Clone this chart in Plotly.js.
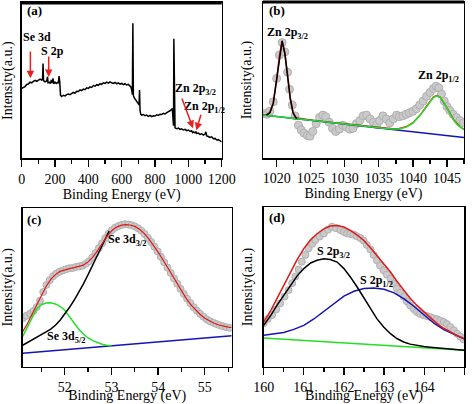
<!DOCTYPE html>
<html>
<head>
<meta charset="utf-8">
<script src="https://cdn.plot.ly/plotly-3.0.1.min.js"></script>
<style>
  html, body { margin: 0; padding: 0; background: #fff; }
  #chart { width: 474px; height: 404px; }
</style>
</head>
<body>
<div id="chart"></div>
<script>
// (a) survey spectrum
const surveyE = [0,10,20,30,40,50,60,70,80,90,100,110,120,125,128,131,140,150,155,158,165,172,178,182,188,192,200,208,215,220,224,228,233,240,250,260,270,280,290,300,310,320,330,340,350,360,370,380,390,400,410,420,430,440,450,460,470,480,490,500,510,520,530,540,550,560,570,580,590,600,610,620,630,640,648,655,660,664,667,670,675,680,685,690,695,700,704,707,710,714,720,730,740,750,760,770,780,790,800,810,820,830,840,850,860,870,880,890,898,904,908,911,913,916,920,930,940,950,960,970,980,990,1000,1010,1020,1025,1030,1040,1045,1050,1060,1070,1080,1090,1100,1105,1110,1120,1130,1140,1150,1160,1170,1180,1190,1200];
const surveyI = [45,45.6,46.2,47.5,47.8,49,48.6,49.5,50.2,49.6,50.6,51,50.4,50.8,61,50,49.2,49.8,52.5,48.6,49,48.2,50.5,48.4,51.5,48,49,48.2,48.8,48.6,53,49.5,40.5,39.8,40.6,40.2,41,41.4,41,42,42.4,42,43.2,43,44,43.6,44.6,44.2,45.4,45,46,45.6,46.8,46.4,47.4,47,48,47.6,48.6,48.2,49,48.4,49.2,48.6,48.2,48.8,48,48.6,47.8,48.2,47.4,48,47.2,47.6,46.8,46,44,41,87,40.5,39,38,37.2,36.4,35.8,35,34.4,44,31,28.5,27.8,28.2,27.4,27.8,27,27.6,26.8,27.4,27.2,28,27.6,28.4,28.2,29,28.6,29.6,30,30.6,31.5,32,25,21,77,21,19.6,19,19.4,18.6,19,18.2,18.6,17.8,18.2,17.4,17.6,16.6,17,16.4,17.2,16,16.2,15.4,15.8,15,15.6,17,14.4,14,13.4,13.8,12.6,12.8,11.8,12,11,10.6];

// (b) Zn 2p
const znE = [1018.2,1018.6,1019.0,1019.5,1020.0,1020.4,1020.8,1021.2,1021.6,1021.9,1022.3,1022.7,1023.2,1023.6,1024.0,1024.5,1024.9,1025.3,1025.8,1026.3,1026.8,1027.2,1027.7,1028.2,1028.7,1029.2,1029.7,1030.2,1030.7,1031.2,1031.7,1032.2,1032.7,1033.2,1033.7,1034.2,1034.7,1035.1,1035.6,1036.1,1036.6,1037.1,1037.6,1038.0,1038.5,1039.0,1039.5,1040.0,1040.5,1041.0,1041.5,1042.0,1042.5,1043.0,1043.4,1043.8,1044.2,1044.6,1045.0,1045.4,1045.9,1046.4,1046.9,1047.4];
const znI = [28.5,28,30,36,51,66,74,68,55,44,34,27,21,18,16,14.5,14,17,22,26,27.5,26.5,23,19,17,18.5,21,20,18.5,19,22,24,27,27.5,25,23,21.5,24,27,25,22.5,25,27.5,26.5,27,28,29,30,31.5,34,36.5,39.5,42,44.5,46,45,41,36.5,33,30.5,28,26,24,22.5];
const znBgE = [1018, 1047.5];
const znBgI = [27.6, 13.2];
const zn32E = [1018.5,1019.0,1019.5,1020.0,1020.4,1020.8,1021.2,1021.6,1022.0,1022.4,1022.8,1023.0];
const zn32I = [27.4,29,35,50,65,75,67,53,38,29,25.8,25.4];
const zn12E = [1018,1020,1022,1024,1026,1028,1030,1032,1034,1036,1037,1038,1039,1040,1041,1042,1042.5,1043,1043.5,1044,1044.5,1045,1045.5,1046,1046.5,1047,1047.5];
const zn12I = [27.6,26.6,25.6,24.7,23.7,22.8,21.8,20.8,19.8,18.9,18.6,18.6,19.8,22.4,27.0,33.0,36.0,38.8,39.8,38.8,36.0,32.0,27.8,24.2,21.4,19.5,18.2];
const znFitE = [1018,1018.5,1019.0,1019.5,1020.0,1020.4,1020.8,1021.2,1021.6,1022.0,1022.4,1022.8,1023.0,1026,1030,1034,1037,1038,1039,1040,1041,1042,1043,1043.5,1044,1045,1046,1047,1047.5];
const znFitI = [27.6,27.6,29.2,35.2,50.3,65.3,75.3,67.4,53.4,38.5,29.5,26.2,25.6,23.8,21.9,19.9,18.8,18.9,20.0,22.6,27.2,33.2,39.0,40.0,39.0,32.2,24.4,19.7,18.4];

// (c) Se 3d
const seE = [51.11,51.18,51.26,51.33,51.40,51.47,51.54,51.61,51.68,51.75,51.82,51.89,51.96,52.03,52.10,52.17,52.24,52.31,52.38,52.45,52.52,52.59,52.66,52.73,52.80,52.87,52.94,53.01,53.08,53.15,53.22,53.29,53.36,53.43,53.50,53.57,53.64,53.71,53.78,53.85,53.92,53.99,54.06,54.13,54.20,54.27,54.34,54.41,54.48,54.55,54.62,54.69,54.76,54.83,54.90,54.97,55.04,55.11,55.18,55.25,55.32,55.39,55.46,55.53];
const seI = [30.6,32.0,33.4,35.0,37.5,41.5,47.0,51.5,54.5,57.0,58.6,59.8,60.6,61.4,62.0,62.2,62.8,63.2,63.6,64.8,66.4,68.8,71.6,74.6,77.8,81.0,83.8,86.0,87.6,88.6,89.4,89.8,89.6,89.2,88.4,87.2,85.6,83.6,81.2,78.6,75.6,72.6,69.2,65.8,62.4,59.0,55.6,52.2,49.0,45.8,42.8,40.0,37.4,35.2,33.2,31.4,29.8,28.6,27.6,26.8,26.0,25.4,24.8,24.4];
const seFitE = [51.1,51.2,51.3,51.4,51.5,51.6,51.7,51.8,51.9,52.0,52.1,52.2,52.3,52.4,52.5,52.6,52.7,52.8,52.9,53.0,53.1,53.2,53.3,53.4,53.5,53.6,53.7,53.8,53.9,54.0,54.1,54.2,54.3,54.4,54.5,54.6,54.7,54.8,54.9,55.0,55.1,55.2,55.3,55.4,55.5,55.575];
const seFitI = [22.0,27.0,33.0,39.0,45.0,50.5,55.0,58.0,60.0,61.0,61.8,62.4,63.0,64.0,66.0,69.0,73.0,77.5,82.0,85.5,87.8,89.0,89.5,89.3,88.4,86.6,84.0,80.5,76.5,72.2,67.5,62.5,57.2,52.2,47.4,43.0,39.0,35.6,32.8,30.5,28.7,27.3,26.2,25.4,24.9,24.6];
const se32E = [51.1,51.2,51.3,51.4,51.5,51.6,51.7,51.8,51.9,52.0,52.1,52.2,52.3,52.4,52.5,52.6,52.7,52.8,52.9,52.95];
const se32I = [13.4,15.0,16.6,18.3,20.0,21.8,23.6,26.0,29.2,33.0,37.2,41.8,46.8,52.2,58.0,64.0,70.5,77.0,83.0,85.5];
const se52E = [51.1,51.2,51.3,51.4,51.5,51.6,51.7,51.8,51.9,52.0,52.1,52.2,52.3,52.4,52.5,52.6,52.7,52.8,52.9,53.0];
const se52I = [19.0,25.0,31.5,36.5,39.0,40.0,40.2,39.5,38.0,35.5,31.5,27.5,23.5,20.5,18.0,16.3,15.0,14.0,13.4,13.2];
const seBgE = [51.1, 55.575];
const seBgI = [8.4, 19.4];

// (d) S 2p
const sE = [160.00,160.10,160.21,160.31,160.41,160.52,160.62,160.71,160.79,160.87,160.95,161.04,161.12,161.21,161.29,161.40,161.50,161.60,161.70,161.80,161.91,162.00,162.08,162.16,162.24,162.32,162.41,162.49,162.57,162.66,162.74,162.82,162.90,162.99,163.07,163.16,163.24,163.32,163.40,163.49,163.57,163.65,163.74,163.82,163.90,163.99,164.07,164.15,164.24,164.32,164.40,164.49,164.57,164.65,164.74,164.82,164.90,164.98];
const sI = [27.3,30.0,32.5,36.0,39.8,44.0,48.1,52.4,56.5,61.0,65.8,70.0,74.2,77.0,79.4,81.6,83.5,85.8,87.7,86.8,85.6,84.4,83.5,83.2,82.8,81.8,80.6,79.0,76.3,73.5,70.0,66.7,63.4,60.4,57.8,55.2,52.0,49.0,46.4,43.8,41.0,38.5,36.2,34.4,33.2,32.3,31.8,31.2,30.4,29.8,29.0,28.1,26.8,25.0,23.0,20.8,19.0,17.3];
const sFitE = [160.00,160.17,160.33,160.50,160.66,160.83,161.00,161.17,161.33,161.50,161.66,161.83,162.00,162.16,162.33,162.49,162.66,162.82,162.99,163.16,163.32,163.49,163.65,163.82,163.99,164.15,164.32,164.49,164.65,164.82,165.00];
const sFitI = [28.0,35.0,42.7,51.0,59.4,67.0,74.0,79.5,83.3,86.3,88.1,88.5,87.5,85.4,82.5,79.2,74.6,69.8,64.6,59.4,53.6,47.9,43.0,38.5,34.5,30.6,27.1,24.2,21.8,19.6,17.6];
const s32I = [26.0,32.0,38.5,45.0,51.0,56.8,61.5,65.0,66.7,67.6,67.2,65.6,61.5,56.3,50.0,43.8,36.8,30.2,25.0,20.8,17.8,15.6,14.3,13.4,12.8,12.4,12.0,11.6,11.2,10.8,10.4];
const s12E = [160.00,160.25,160.50,160.75,161.00,161.25,161.50,161.75,162.00,162.25,162.50,162.75,163.00,163.25,163.50,163.75,164.00,164.25,164.50,164.75,165.00];
const s12I = [19.8,20.6,21.6,23.5,26.0,30.0,34.8,40.0,44.3,47.3,49.0,49.4,48.6,46.3,42.6,37.8,32.4,27.2,23.2,20.5,17.6];
const sBgE = [160, 165];
const sBgI = [18.1, 10.4];

const RED = '#e01818', BLACK = '#000000', GREEN = '#22e022', BLUE = '#1414b4';
const FONT = 'Liberation Serif';

function line(x, y, color, ax, width) {
  return { x: x, y: y, type: 'scatter', mode: 'lines', xaxis: 'x' + ax, yaxis: 'y' + ax,
           line: { color: color, width: width || 1.5 }, hoverinfo: 'skip' };
}
function dots(x, y, ax, size) {
  return { x: x, y: y, type: 'scatter', mode: 'markers', xaxis: 'x' + ax, yaxis: 'y' + ax,
           marker: { size: size || 7, color: '#cacaca', line: { color: '#b0b0b0', width: 1 } },
           hoverinfo: 'skip' };
}

var data = [
  line(surveyE, surveyI, BLACK, '', 1.5),

  dots(znE, znI, '2', 8),
  line(znFitE, znFitI, RED, '2'),
  line(znBgE, znBgI, BLUE, '2'),
  line(zn12E, zn12I, GREEN, '2'),
  line(zn32E, zn32I, BLACK, '2'),

  dots(seE, seI, '3'),
  line(seBgE, seBgI, BLUE, '3'),
  line(se52E, se52I, GREEN, '3'),
  line(se32E, se32I, BLACK, '3'),
  line(seFitE, seFitI, RED, '3', 1.2),

  dots(sE, sI, '4'),
  line(sBgE, sBgI, GREEN, '4'),
  line(s12E, s12I, BLUE, '4'),
  line(sFitE, s32I, BLACK, '4'),
  line(sFitE, sFitI, RED, '4'),
];

function xax(domain, range, dtick, minorDtick, anchor, standoff) {
  return {
    domain: domain, range: range, anchor: anchor, dtick: dtick, tick0: 0,
    showline: true, mirror: true, linecolor: 'black', linewidth: 1.5,
    ticks: 'outside', ticklen: 7, tickwidth: 1.3, tickcolor: 'black',
    minor: { dtick: minorDtick, ticks: 'outside', ticklen: 4, tickwidth: 1.3, tickcolor: 'black' },
    showgrid: false, zeroline: false,
    tickfont: { family: FONT, size: 14, color: 'black' },
    title: { text: 'Binding Energy (eV)', standoff: standoff, font: { family: FONT, size: 14, color: 'black' } }
  };
}
function yax(domain, anchor) {
  return {
    domain: domain, range: [0, 100], anchor: anchor,
    showline: true, mirror: true, linecolor: 'black', linewidth: 1.5,
    ticks: '', showticklabels: false, showgrid: false, zeroline: false,
    title: { text: 'Intensity(a.u.)', standoff: 6, font: { family: FONT, size: 14, color: 'black' } }
  };
}

function label(text, px, py, size) {
  return { text: text, xref: 'paper', yref: 'paper', x: px / 474, y: 1 - py / 404,
           xanchor: 'center', yanchor: 'middle', showarrow: false,
           font: { family: FONT, size: size || 12, color: 'black' } };
}
function arrow(ax, ay, x, y) {
  return { text: '', xref: 'x', yref: 'y', axref: 'x', ayref: 'y', x: x, y: y, ax: ax, ay: ay,
           showarrow: true, arrowhead: 2, arrowsize: 1, arrowwidth: 1.5, arrowcolor: '#e82020' };
}
// heavier top edge seen on the upper two frames
function topEdge(ax) {
  return { type: 'line', xref: 'x' + ax + ' domain', yref: 'y' + ax + ' domain',
           x0: 0, x1: 1, y0: 1, y1: 1, line: { color: 'black', width: 3 } };
}

var layout = {
  width: 474, height: 404,
  margin: { l: 0, r: 0, t: 0, b: 0 },
  paper_bgcolor: 'white', plot_bgcolor: 'white',
  showlegend: false,
  font: { family: FONT },
  xaxis:  xax([0.0458, 0.4677], [0, 1200], 200, 100, 'y', 1),
  yaxis:  yax([0.6082, 0.9926], 'x'),
  xaxis2: xax([0.5549, 0.9789], [1018, 1047.5], 5, 2.5, 'y2', 1),
  yaxis2: yax([0.6089, 0.9950], 'x2'),
  xaxis3: xax([0.0479, 0.4888], [51.1, 55.575], 1, 0.5, 'y3', 5),
  yaxis3: yax([0.0928, 0.4851], 'x3'),
  xaxis4: xax([0.5563, 0.9795], [160, 165], 1, 0.5, 'y4', 5),
  yaxis4: yax([0.0916, 0.4876], 'x4'),
  shapes: [topEdge(''), topEdge('2')],
  annotations: [
    label('<b>(a)</b>', 34, 10, 13),
    label('<b>(b)</b>', 277, 10, 13),
    label('<b>(c)</b>', 34, 219, 13),
    label('<b>(d)</b>', 277, 217, 13),

    label('<b>Se 3d</b>', 36.5, 37),
    label('<b>S 2p</b>', 52, 51),
    label('<b>Zn 2p<sub>3/2</sub></b>', 195, 89),
    label('<b>Zn 2p<sub>1/2</sub></b>', 204.5, 107),
    arrow(52, 69.7, 52, 51.6),
    arrow(162, 66.5, 162, 52.3),
    arrow(958, 39.5, 1028, 19.4),
    arrow(1078, 29, 1048, 18),

    label('<b>Zn 2p<sub>3/2</sub></b>', 287.5, 33),
    label('<b>Zn 2p<sub>1/2</sub></b>', 438, 76),
    label('<b>Se 3d<sub>3/2</sub></b>', 127, 240),
    label('<b>Se 3d<sub>5/2</sub></b>', 66, 337),
    label('<b>S 2p<sub>3/2</sub></b>', 333, 252),
    label('<b>S 2p<sub>1/2</sub></b>', 376, 281),
  ]
};

Plotly.newPlot('chart', data, layout, { staticPlot: true });
</script>
</body>
</html>
